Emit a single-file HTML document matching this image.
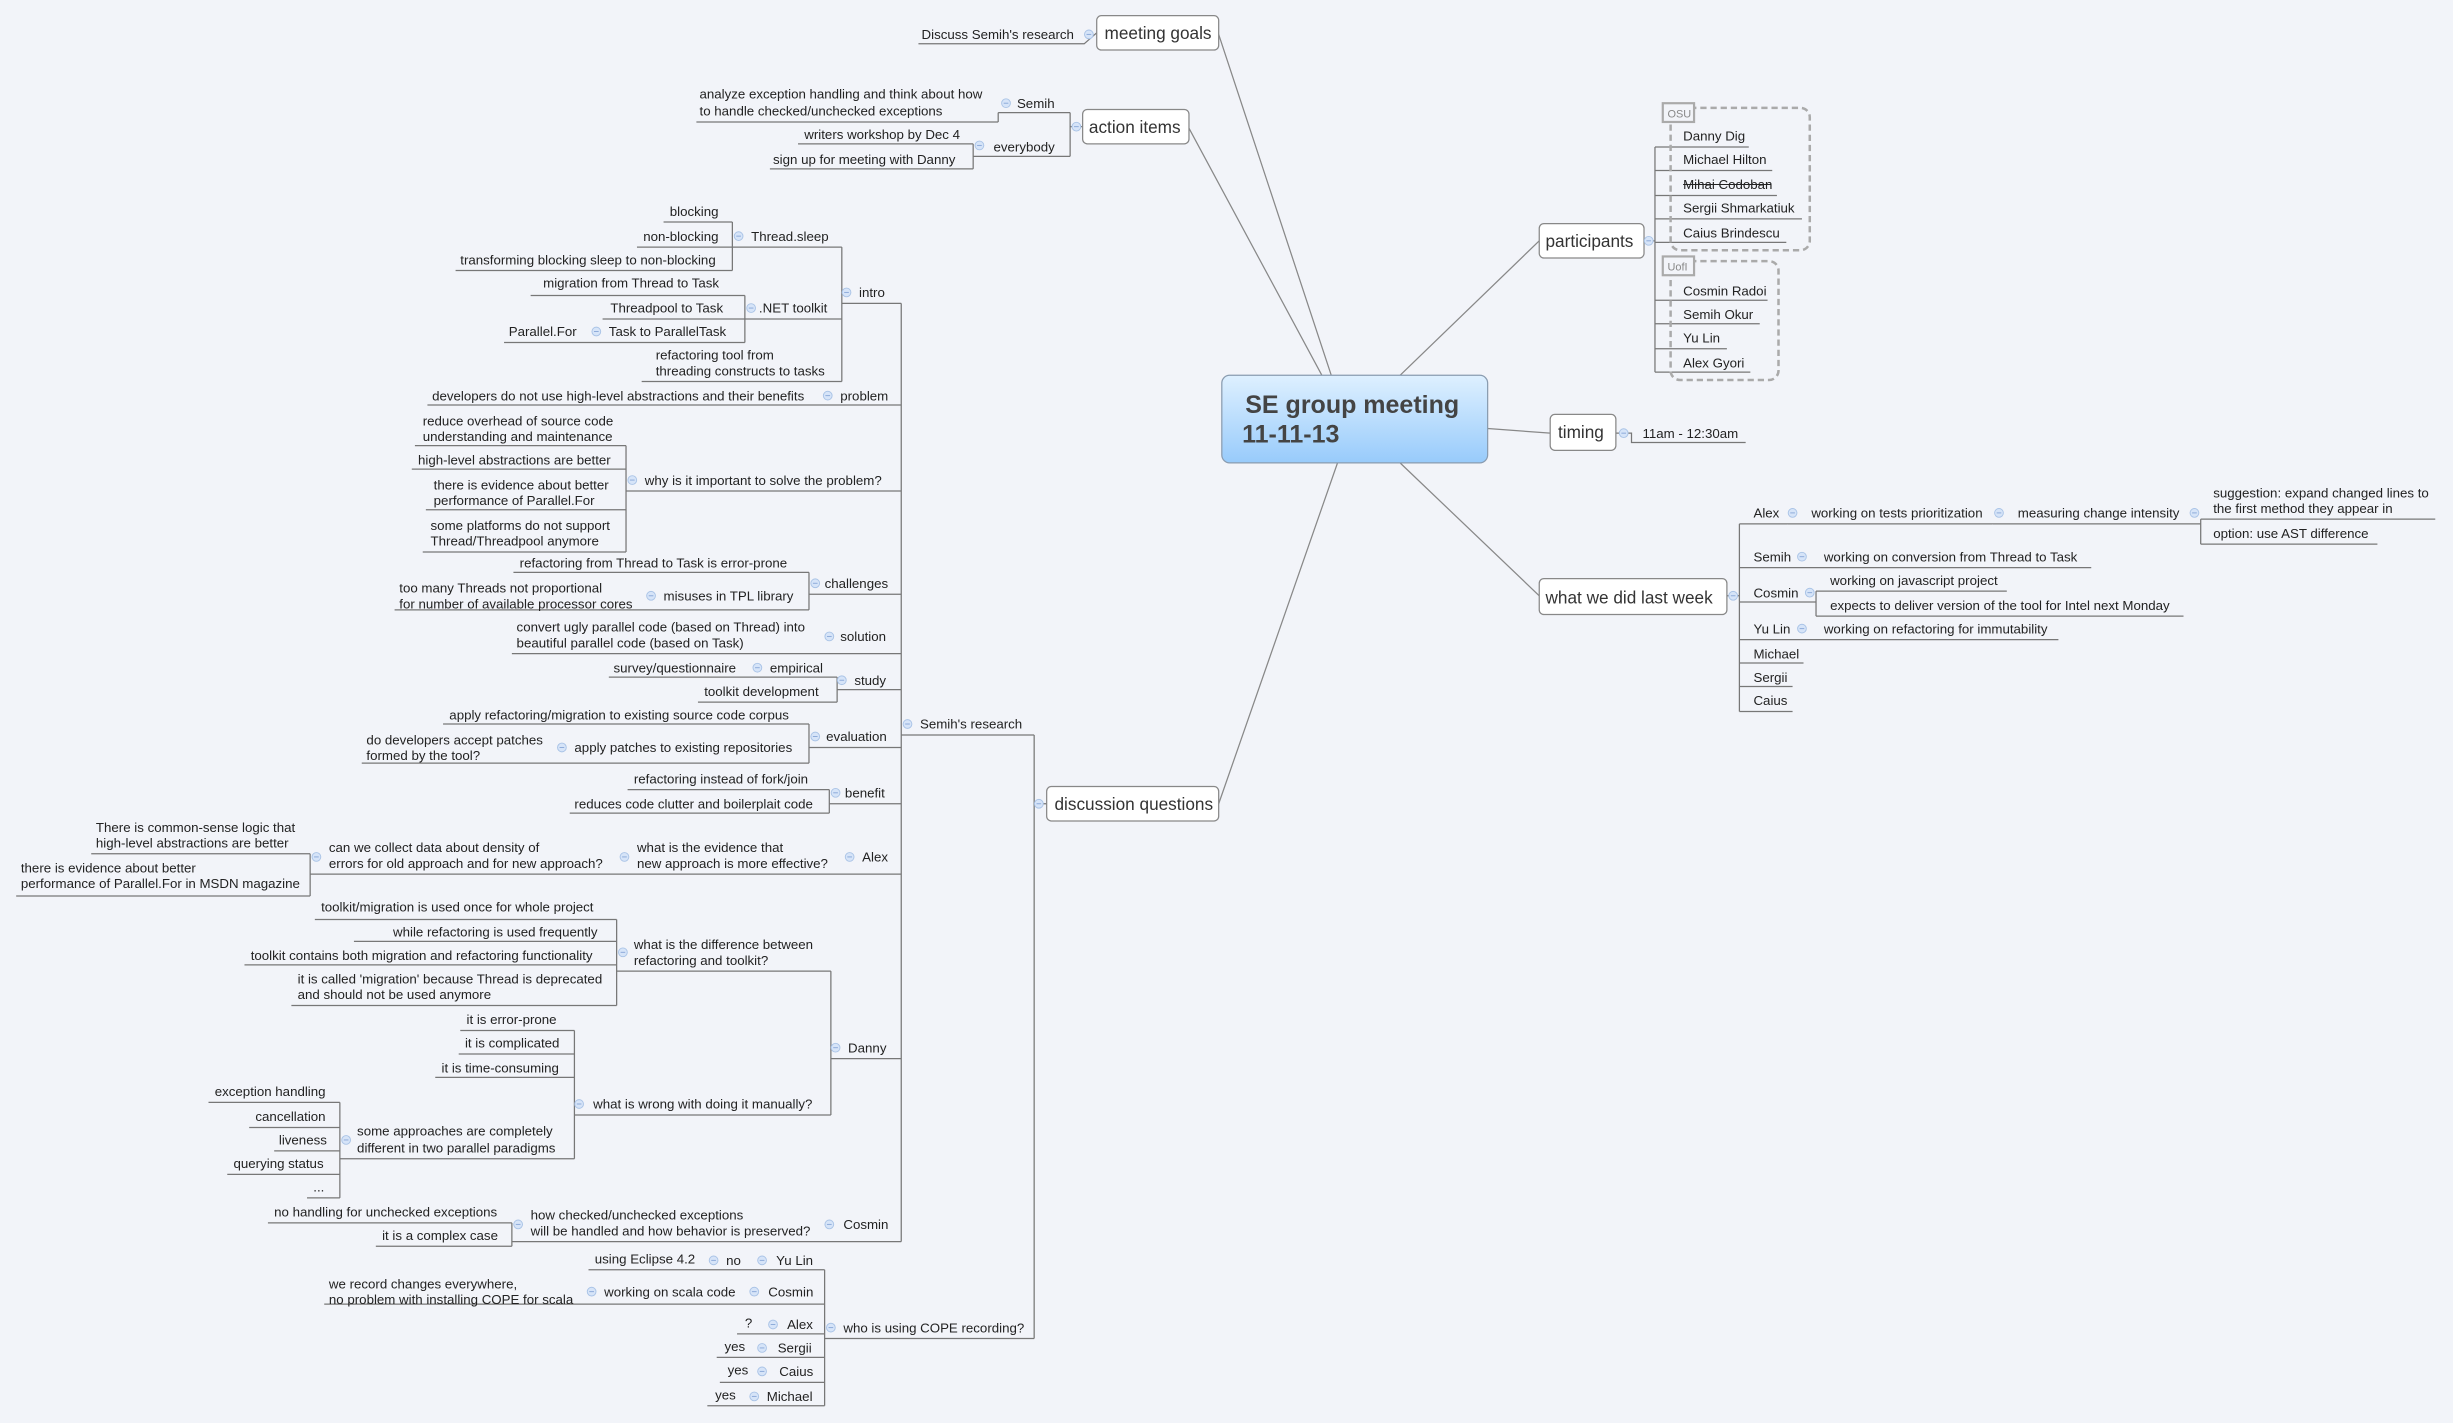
<!DOCTYPE html>
<html><head><meta charset="utf-8"><style>
html,body{margin:0;padding:0;background:#f2f4f9;}
svg{display:block}
text{font-family:"Liberation Sans",sans-serif;font-size:8.5px;fill:#222}
.t{font-size:11px;fill:#333}
.c{font-size:16px;font-weight:bold;fill:#444}
.g{font-size:7px;fill:#888}
</style></head><body>
<svg width="2453" height="1423" viewBox="0 0 1568 910" xmlns="http://www.w3.org/2000/svg">
<defs>
<linearGradient id="cg" x1="0" y1="0" x2="0" y2="1"><stop offset="0" stop-color="#def0ff"/><stop offset="1" stop-color="#98cbfb"/></linearGradient>
<g id="ic"><circle r="2.8" fill="#d6e4f8" stroke="#a9c3e6" stroke-width="0.6"/><line x1="-1.5" x2="1.5" y1="0" y2="0" stroke="#8aa8d8" stroke-width="0.6"/></g>
</defs>
<rect width="1568" height="910" fill="#f2f4f9"/>
<g stroke="#888" stroke-width="0.8" fill="none">
<path d="M851 240 L779 22 M845 240 L760 82 M895 240 L984 154 M951 274 L991 277 M895 296 L984 381 M855 296 L779 514"/>
</g>
<g stroke="#777" stroke-width="0.8" fill="none">
<path d="M587 28 H693 L701 21"/>
<path d="M684 81 H692 M638 72 H684 M445 78 H638 M638 72 V78 M622 100 H684 M510 92 H622 M492 108 H622 M622 92 V108 M684 72 V100"/>
<path d="M1051 154 H1058 M1058 94 V238 M1058 94 H1118 M1058 109 H1133 M1058 125 H1136 M1058 140 H1152 M1058 155 H1142 M1058 192 H1130 M1058 207 H1125 M1058 223 H1104 M1058 238 H1119"/>
<path d="M1033 277 H1043 V283 H1116"/>
<path d="M1104 381 H1112 M1112 335 V455 M1112 335 H1143 M1150 335 H1274 M1143 335 H1150 M1274 335 H1282 H1400 H1407 M1407 332 V348 M1407 332 H1557 M1407 348 H1520
M1112 363 H1157 H1337 M1112 385 H1161 M1161 378 V394 M1161 378 H1283 M1161 394 H1396 M1112 409 H1157 H1316 M1112 424 H1153 M1112 439 H1146 M1112 455 H1146"/>
<path d="M661 514 H669 M661 470 V856 M576 470 H661 M527 856 H661 M576 194 V794"/>
<path d="M538 194 H576 M538 158 V244 M468 158 H538 M468 142 V173 M424 142 H468 M407 158 H468 M291 173 H468
M476 204 H538 M476 189 V219 M339 189 H476 M385 204 H476 M322 219 H476 M410 244 H538
M273 259 H576 M400 314 H576 M400 285 V353 M265 285 H400 M263 300 H400 M272 326 H400 M270 353 H400
M517 380 H576 M517 366 V390 M328 366 H517 M252 390 H517 M327 418 H576
M535 441 H576 M535 433 V449 M389 433 H535 M446 449 H535
M517 478 H576 M517 463 V488 M283 463 H517 M231 488 H517
M530 514 H576 M530 505 V520 M401 505 H530 M364 520 H530
M198 559 H576 M198 546 V573 M58 546 H198 M10 573 H198
M531 677 H576 M531 621 V713 M394 621 H531 M394 588 V643 M201 588 H394 M226 602 H394 M156 617 H394 M186 643 H394
M367 713 H531 M367 659 V741 M294 659 H367 M293 674 H367 M278 689 H367 M217 741 H367 M217 705 V766 M133 705 H217 M159 721 H217 M175 736 H217 M145 751 H217 M196 766 H217
M327 794 H576 M327 782 V797 M171 782 H327 M240 797 H327
M527 812 V899 M376 812 H527 M207 834 H527 M471 853 H527 M458 868 H527 M460 884 H527 M452 899 H527"/>
</g>
<g fill="none" stroke="#aaa" stroke-width="1.6" stroke-dasharray="4,2.5">
<rect x="1068" y="69" width="89" height="91" rx="6"/>
<rect x="1068" y="167" width="69" height="76" rx="6"/>
</g>
<rect x="1063" y="66" width="20" height="12" fill="#f2f4f9" stroke="#aaa" stroke-width="1.4"/>
<text x="1066" y="75" class="g">OSU</text>
<rect x="1063" y="164" width="20" height="12" fill="#f2f4f9" stroke="#aaa" stroke-width="1.4"/>
<text x="1066" y="173" class="g">UofI</text>
<rect x="781" y="240" width="170" height="56" rx="5" fill="url(#cg)" stroke="#8a9cb0" stroke-width="0.8"/>
<text x="796" y="264" class="c">SE group meeting</text>
<text x="794" y="283" class="c">11-11-13</text>
<g fill="#fff" stroke="#888" stroke-width="0.8">
<rect x="701" y="10" width="78" height="22" rx="3"/>
<rect x="692" y="70" width="68" height="22" rx="3"/>
<rect x="984" y="143" width="67" height="22" rx="3"/>
<rect x="991" y="265" width="42" height="23" rx="3"/>
<rect x="984" y="370" width="120" height="23" rx="3"/>
<rect x="669" y="503" width="110" height="22" rx="3"/>
</g>
<text x="706" y="25" class="t">meeting goals</text>
<text x="696" y="85" class="t">action items</text>
<text x="988" y="158" class="t">participants</text>
<text x="996" y="280" class="t">timing</text>
<text x="988" y="386" class="t">what we did last week</text>
<text x="674" y="518" class="t">discussion questions</text>
<g>
<use href="#ic" x="696" y="22"/><use href="#ic" x="688" y="81"/><use href="#ic" x="643" y="66"/><use href="#ic" x="626" y="93"/>
<use href="#ic" x="1054" y="154"/><use href="#ic" x="1038" y="277"/><use href="#ic" x="1108" y="381"/>
<use href="#ic" x="1146" y="328"/><use href="#ic" x="1278" y="328"/><use href="#ic" x="1403" y="328"/><use href="#ic" x="1152" y="356"/><use href="#ic" x="1157" y="379"/><use href="#ic" x="1152" y="402"/>
<use href="#ic" x="664" y="514"/><use href="#ic" x="580" y="463"/><use href="#ic" x="541" y="187"/><use href="#ic" x="472" y="151"/><use href="#ic" x="480" y="197"/><use href="#ic" x="381" y="212"/>
<use href="#ic" x="529" y="253"/><use href="#ic" x="404" y="307"/><use href="#ic" x="521" y="373"/><use href="#ic" x="416" y="381"/><use href="#ic" x="530" y="407"/><use href="#ic" x="538" y="435"/><use href="#ic" x="484" y="427"/>
<use href="#ic" x="521" y="471"/><use href="#ic" x="359" y="478"/><use href="#ic" x="534" y="507"/><use href="#ic" x="543" y="548"/><use href="#ic" x="399" y="548"/><use href="#ic" x="202" y="548"/>
<use href="#ic" x="534" y="670"/><use href="#ic" x="398" y="609"/><use href="#ic" x="370" y="706"/><use href="#ic" x="221" y="729"/><use href="#ic" x="530" y="783"/><use href="#ic" x="331" y="783"/>
<use href="#ic" x="531" y="849"/><use href="#ic" x="487" y="806"/><use href="#ic" x="456" y="806"/><use href="#ic" x="482" y="826"/><use href="#ic" x="378" y="826"/><use href="#ic" x="494" y="847"/><use href="#ic" x="487" y="862"/><use href="#ic" x="487" y="877"/><use href="#ic" x="482" y="893"/>
</g>
<text x="589" y="25">Discuss Semih's research</text>
<text x="650" y="69">Semih</text>
<text x="447" y="63">analyze exception handling and think about how</text>
<text x="447" y="74">to handle checked/unchecked exceptions</text>
<text x="635" y="97">everybody</text>
<text x="514" y="89">writers workshop by Dec 4</text>
<text x="494" y="105">sign up for meeting with Danny</text>

<text x="1076" y="90">Danny Dig</text>
<text x="1076" y="105">Michael Hilton</text>
<text x="1076" y="121">Mihai Codoban</text>
<line x1="1076" x2="1132" y1="118" y2="118" stroke="#222" stroke-width="0.6"/>
<text x="1076" y="136">Sergii Shmarkatiuk</text>
<text x="1076" y="152">Caius Brindescu</text>
<text x="1076" y="189">Cosmin Radoi</text>
<text x="1076" y="204">Semih Okur</text>
<text x="1076" y="219">Yu Lin</text>
<text x="1076" y="235">Alex Gyori</text>

<text x="1050" y="280">11am - 12:30am</text>

<text x="1121" y="331">Alex</text>
<text x="1158" y="331">working on tests prioritization</text>
<text x="1290" y="331">measuring change intensity</text>
<text x="1415" y="318">suggestion: expand changed lines to</text>
<text x="1415" y="328">the first method they appear in</text>
<text x="1415" y="344">option: use AST difference</text>
<text x="1121" y="359">Semih</text>
<text x="1166" y="359">working on conversion from Thread to Task</text>
<text x="1121" y="382">Cosmin</text>
<text x="1170" y="374">working on javascript project</text>
<text x="1170" y="390">expects to deliver version of the tool for Intel next Monday</text>
<text x="1121" y="405">Yu Lin</text>
<text x="1166" y="405">working on refactoring for immutability</text>
<text x="1121" y="421">Michael</text>
<text x="1121" y="436">Sergii</text>
<text x="1121" y="451">Caius</text>

<text x="588" y="466">Semih's research</text>
<text x="549" y="190">intro</text>
<text x="480" y="154">Thread.sleep</text>
<text x="428" y="138">blocking</text>
<text x="411" y="154">non-blocking</text>
<text x="294" y="169">transforming blocking sleep to non-blocking</text>
<text x="485" y="200">.NET toolkit</text>
<text x="347" y="184">migration from Thread to Task</text>
<text x="390" y="200">Threadpool to Task</text>
<text x="389" y="215">Task to ParallelTask</text>
<text x="325" y="215">Parallel.For</text>
<text x="419" y="230">refactoring tool from</text>
<text x="419" y="240">threading constructs to tasks</text>
<text x="537" y="256">problem</text>
<text x="276" y="256">developers do not use high-level abstractions and their benefits</text>
<text x="412" y="310">why is it important to solve the problem?</text>
<text x="270" y="272">reduce overhead of source code</text>
<text x="270" y="282">understanding and maintenance</text>
<text x="267" y="297">high-level abstractions are better</text>
<text x="277" y="313">there is evidence about better</text>
<text x="277" y="323">performance of Parallel.For</text>
<text x="275" y="339">some platforms do not support</text>
<text x="275" y="349">Thread/Threadpool anymore</text>
<text x="527" y="376">challenges</text>
<text x="332" y="363">refactoring from Thread to Task is error-prone</text>
<text x="424" y="384">misuses in TPL library</text>
<text x="255" y="379">too many Threads not proportional</text>
<text x="255" y="389">for number of available processor cores</text>
<text x="537" y="410">solution</text>
<text x="330" y="404">convert ugly parallel code (based on Thread) into</text>
<text x="330" y="414">beautiful parallel code (based on Task)</text>
<text x="546" y="438">study</text>
<text x="492" y="430">empirical</text>
<text x="392" y="430">survey/questionnaire</text>
<text x="450" y="445">toolkit development</text>
<text x="528" y="474">evaluation</text>
<text x="287" y="460">apply refactoring/migration to existing source code corpus</text>
<text x="367" y="481">apply patches to existing repositories</text>
<text x="234" y="476">do developers accept patches</text>
<text x="234" y="486">formed by the tool?</text>
<text x="540" y="510">benefit</text>
<text x="405" y="501">refactoring instead of fork/join</text>
<text x="367" y="517">reduces code clutter and boilerplait code</text>
<text x="551" y="551">Alex</text>
<text x="407" y="545">what is the evidence that</text>
<text x="407" y="555">new approach is more effective?</text>
<text x="210" y="545">can we collect data about density of</text>
<text x="210" y="555">errors for old approach and for new approach?</text>
<text x="61" y="532">There is common-sense logic that</text>
<text x="61" y="542">high-level abstractions are better</text>
<text x="13" y="558">there is evidence about better</text>
<text x="13" y="568">performance of Parallel.For in MSDN magazine</text>
<text x="542" y="673">Danny</text>
<text x="405" y="607">what is the difference between</text>
<text x="405" y="617">refactoring and toolkit?</text>
<text x="205" y="583">toolkit/migration is used once for whole project</text>
<text x="251" y="599">while refactoring is used frequently</text>
<text x="160" y="614">toolkit contains both migration and refactoring functionality</text>
<text x="190" y="629">it is called 'migration' because Thread is deprecated</text>
<text x="190" y="639">and should not be used anymore</text>
<text x="379" y="709">what is wrong with doing it manually?</text>
<text x="298" y="655">it is error-prone</text>
<text x="297" y="670">it is complicated</text>
<text x="282" y="686">it is time-consuming</text>
<text x="228" y="726">some approaches are completely</text>
<text x="228" y="737">different in two parallel paradigms</text>
<text x="137" y="701">exception handling</text>
<text x="163" y="717">cancellation</text>
<text x="178" y="732">liveness</text>
<text x="149" y="747">querying status</text>
<text x="200" y="762">...</text>
<text x="539" y="786">Cosmin</text>
<text x="339" y="780">how checked/unchecked exceptions</text>
<text x="339" y="790">will be handled and how behavior is preserved?</text>
<text x="175" y="778">no handling for unchecked exceptions</text>
<text x="244" y="793">it is a complex case</text>
<text x="539" y="852">who is using COPE recording?</text>
<text x="496" y="809">Yu Lin</text>
<text x="464" y="809">no</text>
<text x="380" y="808">using Eclipse 4.2</text>
<text x="491" y="829">Cosmin</text>
<text x="386" y="829">working on scala code</text>
<text x="210" y="824">we record changes everywhere,</text>
<text x="210" y="834">no problem with installing COPE for scala</text>
<text x="503" y="850">Alex</text>
<text x="476" y="849">?</text>
<text x="497" y="865">Sergii</text>
<text x="463" y="864">yes</text>
<text x="498" y="880">Caius</text>
<text x="465" y="879">yes</text>
<text x="490" y="896">Michael</text>
<text x="457" y="895">yes</text>
</svg>
</body></html>
